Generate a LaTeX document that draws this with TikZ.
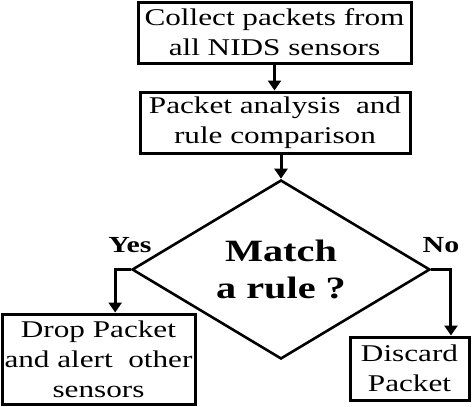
\documentclass[tikz,border=0pt]{standalone}
\usepackage{fontspec}
\setmainfont{Liberation Serif}
\newfontfamily\wide[FakeStretch=1.3]{Liberation Serif}
\newfontfamily\widebf[FakeStretch=1.3]{Liberation Serif Bold}
\usetikzlibrary{shapes.geometric,arrows.meta,calc}
\begin{document}
\begin{tikzpicture}[x=1pt,y=-1pt,
  box/.style={draw,line width=3pt,inner sep=0pt,align=center,
    font=\wide\fontsize{24}{30}\selectfont},
  conn/.style={line width=3pt,-{Triangle[length=10pt,width=13pt]}},
  lbl/.style={font=\widebf\fontsize{23}{26}\selectfont}]
\useasboundingbox (0,0) rectangle (474,407);
\node[box,minimum width=273pt,minimum height=61pt] (b1) at (274.5,32.5)
  {Collect packets from\\all NIDS sensors};
\node[box,minimum width=270pt,minimum height=61pt] (b2) at (275,122.5)
  {Packet analysis~ and\\rule comparison};
\node[draw,diamond,line width=2.6pt,inner sep=0pt,minimum width=298pt,minimum height=179pt] (d) at (281,269.5) {};
\node[align=center,inner sep=0pt,font=\widebf\fontsize{31}{37}\selectfont] (dt) at (d.center)
  {Match\\a rule ?};
\node[box,minimum width=193pt,minimum height=90pt] (drop) at (98.5,359)
  {Drop Packet\\and alert~ other\\sensors};
\node[box,minimum width=119pt,minimum height=63pt] (disc) at (409.5,368.5)
  {Discard\\Packet};
\draw[conn] (b1.south) -- (b1.south |- b2.north);
\draw[conn] (b2.south -| d.north) -- (d.north);
\draw[conn] (d.west) -| ($(drop.north west)!0.585!(drop.north east)$);
\draw[conn] (d.east) -| ($(disc.north west)!0.84!(disc.north east)$);
\node[lbl] (yes) at (130,245) {Yes};
\node[lbl] (no) at (441,245) {No};
\end{tikzpicture}
\end{document}
